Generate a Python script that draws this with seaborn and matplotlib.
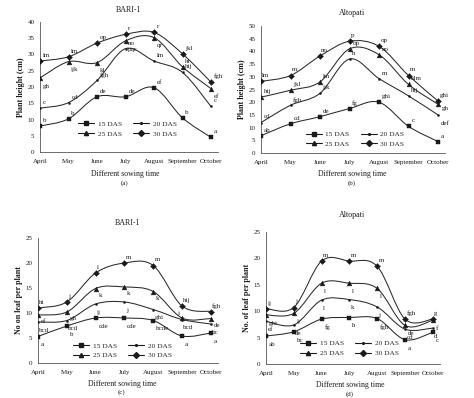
import numpy as np
import pandas as pd
import matplotlib
matplotlib.use("Agg")
import matplotlib.pyplot as plt
from matplotlib.path import Path
from matplotlib.patches import PathPatch
from matplotlib.lines import Line2D
import seaborn as sns

months = ["April", "May", "June", "July", "August", "September", "October"]
series = ["15 DAS", "20 DAS", "25 DAS", "30 DAS"]

# (a) BARI-1 plant height
a_15 = [8.0, 10.2, 17.0, 17.0, 19.8, 10.5, 4.5]
a_20 = [13.5, 15.2, 22.0, 31.8, 28.0, 24.5, 14.0]
a_25 = [22.8, 27.8, 27.5, 34.2, 35.2, 26.2, 19.5]
a_30 = [28.0, 29.3, 33.5, 36.2, 36.8, 30.2, 21.5]
a_lab15 = ["b", "b", "de", "de", "ef", "b", "a"]
a_lab20 = ["c", "cd", "fgh", "no", "lm", "hij", "c"]
a_lab25 = ["gh", "ijk", "kl", "pqr", "qr", "hi", "ef"]
a_lab30 = ["lm", "lm", "op", "r", "r", "jkl", "fgh"]

# (b) Altopati plant height
b_15 = [6.8, 11.5, 14.3, 17.5, 20.0, 10.5, 4.5]
b_20 = [12.0, 18.8, 23.5, 37.0, 29.3, 22.5, 15.0]
b_25 = [22.0, 24.7, 28.0, 41.0, 38.7, 27.0, 19.2]
b_30 = [28.2, 30.5, 38.2, 44.0, 42.0, 30.5, 20.5]
b_lab15 = ["ab", "cd", "de", "fg", "ghi", "c", "a"]
b_lab20 = ["cd", "fgh", "ijk", "n", "m", "hij", "def"]
b_lab25 = ["hij", "jkl", "lm", "op", "no", "klm", "gh"]
b_lab30 = ["lm", "m", "no", "p", "op", "m", "ghi"]

# (c) BARI-1 leaf number
c_15 = [5.3, 7.4, 9.0, 9.0, 8.5, 5.4, 6.0]
c_20 = [8.2, 8.5, 11.8, 12.2, 10.7, 8.7, 7.8]
c_25 = [9.6, 10.2, 14.9, 15.2, 14.3, 9.0, 8.9]
c_30 = [11.0, 12.2, 18.0, 20.0, 19.5, 11.4, 10.3]
c_lab15 = ["a", "b", "cde", "cde", "bcde", "a", "a"]
c_lab20 = ["bcd", "bcd", "ij", "j", "ghi", "bcd", "bc"]
c_lab25 = ["ef", "gh", "k", "k", "k", "i", "de"]
c_lab30 = ["hi", "j", "l", "m", "m", "hij", "fgh"]

# (d) Altopati leaf number
d_15 = [5.3, 6.1, 8.5, 8.8, 8.6, 4.6, 6.0]
d_20 = [8.1, 7.4, 12.1, 12.2, 10.8, 6.6, 6.8]
d_25 = [9.3, 9.6, 15.3, 15.3, 14.3, 7.3, 8.3]
d_30 = [10.5, 10.7, 19.5, 19.5, 18.5, 8.5, 8.5]
d_lab15 = ["ab", "bc", "fg", "h", "fgh", "a", "c"]
d_lab20 = ["ef", "de", "l", "k", "j", "cd", "d"]
d_lab25 = ["ghi", "ij", "l", "l", "l", "de", "f"]
d_lab30 = ["ij", "j", "m", "m", "m", "fgh", "g"]

titles = ["BARI-1", "Altopati", "BARI-1", "Altopati"]
ylabels = ["Plant height (cm)", "Plant height (cm)", "No on leaf per plant", "No. of leaf per plant"]
panel_tags = ["(a)", "(b)", "(c)", "(d)"]
xlabel = "Different sowing time"

sns.set_theme(style="white")
plt.rcParams["font.family"] = ["Liberation Serif", "DejaVu Serif"]

INK = "#1a1a1a"
markers = {"15 DAS": "s", "20 DAS": ".", "25 DAS": "^", "30 DAS": "D"}
msize = {"15 DAS": 11, "20 DAS": 9, "25 DAS": 12, "30 DAS": 9}

fig = plt.figure(figsize=(4.74, 3.98), dpi=100)
W, H = 474, 398

# axes rectangles in pixels: left, top, x-unit(px per category), bottom
rects = [
    (40, 22, 28.5, 152),
    (261, 26, 29.5, 153),
    (38, 238, 28.8, 363),
    (266, 232, 27.8, 364),
]
title_y = [10, 13, 223, 215]
xlabel_pos = [(125, 174, 183), (352, 174, 183), (122, 384, 392), (350, 385, 394)]
ylims = [(0, 40, 5), (0, 50, 5), (0, 25, 5), (0, 25, 5)]
legend_pos = [(0.49, 0.18), (0.51, 0.11), (0.47, 0.10), (0.48, 0.12)]
# label offsets (points) per series: 15, 20, 25, 30
offsets = [
    [(2, 4), (2, 4), (2, -6), (2, 4)],
    [(2, 4), (2, 4), (2, 4), (1, 4)],
    [(2, -6), (1, -6), (2, -5), (1, 4)],
    [(2, -6), (1, -6), (2, -6), (1, 4)],
]
# individual label offset overrides: (panel, series index, month index) -> offset
offset_override = {
    (1, 2, 6): (3, -3),
    (1, 1, 6): (2, -6),
    (2, 2, 5): (-3, 3),
    (0, 2, 5): (2, 4),
}

data_sets = [
    ([a_15, a_20, a_25, a_30], [a_lab15, a_lab20, a_lab25, a_lab30]),
    ([b_15, b_20, b_25, b_30], [b_lab15, b_lab20, b_lab25, b_lab30]),
    ([c_15, c_20, c_25, c_30], [c_lab15, c_lab20, c_lab25, c_lab30]),
    ([d_15, d_20, d_25, d_30], [d_lab15, d_lab20, d_lab25, d_lab30]),
]


def smooth_path(xs, ys):
    pts = np.column_stack([xs, ys]).astype(float)
    n = len(pts)
    verts = [pts[0]]
    codes = [Path.MOVETO]
    for i in range(n - 1):
        p0 = pts[i - 1] if i > 0 else pts[i]
        p1 = pts[i]
        p2 = pts[i + 1]
        p3 = pts[i + 2] if i + 2 < n else pts[i + 1]
        c1 = p1 + (p2 - p0) / 6.0
        c2 = p2 - (p3 - p1) / 6.0
        verts += [c1, c2, p2]
        codes += [Path.CURVE4] * 3
    return Path(verts, codes)


for k in range(4):
    left, top, unit, bottom = rects[k]
    width = unit * 6.25
    ax = fig.add_axes([left / W, 1 - bottom / H, width / W, (bottom - top) / H])
    vals, labs = data_sets[k]
    df = pd.DataFrame({
        "x": np.tile(np.arange(len(months)), len(series)),
        "y": np.concatenate(vals),
        "series": np.repeat(series, len(months)),
    })
    for s, v in zip(series, vals):
        ax.add_patch(PathPatch(smooth_path(np.arange(len(months)), v), fill=False,
                               edgecolor="#2a2a2a", lw=0.75, zorder=2))
    for s in series:
        sub = df[df.series == s]
        sns.scatterplot(data=sub, x="x", y="y", marker=markers[s], s=msize[s],
                        color=INK, edgecolor=INK, linewidth=0.3, legend=False,
                        ax=ax, zorder=3)
    for j, (v, lab) in enumerate(zip(vals, labs)):
        for i in range(len(months)):
            dx, dy = offset_override.get((k, j, i), offsets[k][j])
            ax.annotate(lab[i], (i, v[i]), xytext=(dx, dy), textcoords="offset points",
                        fontsize=5, color=INK, ha="left", va="center")
    ymin, ymax, step = ylims[k]
    ax.set_xlim(0, 6.25)
    ax.set_ylim(ymin, ymax)
    ax.set_yticks(np.arange(ymin, ymax + 0.1, step))
    ax.set_xticks(np.arange(len(months)))
    ax.set_xticklabels(months)
    for sp in ["top", "right"]:
        ax.spines[sp].set_visible(False)
    for sp in ["left", "bottom"]:
        ax.spines[sp].set_color("#555555")
        ax.spines[sp].set_linewidth(0.6)
    ax.tick_params(axis="both", labelsize=5, colors="#555555", labelcolor=INK,
                   length=2, width=0.5, pad=2, direction="out")
    ax.tick_params(axis="x", pad=3)
    ax.set_xlabel("")
    ax.set_ylabel(ylabels[k], fontsize=5.8, fontweight="bold", color=INK, labelpad=2)
    xl, yl, yt = xlabel_pos[k]
    fig.text(xl / W, 1 - yl / H, xlabel, fontsize=5.6, color=INK, ha="center", va="center")
    fig.text(xl / W, 1 - yt / H, panel_tags[k], fontsize=5, color=INK, ha="center", va="center")
    fig.text((left + 3.1 * unit) / W, 1 - title_y[k] / H, titles[k], fontsize=5.8,
             color=INK, ha="center", va="center")
    handles = [Line2D([0], [0], color=INK, lw=0.8, marker=markers[s],
                      markersize=3 if s != "20 DAS" else 2.5) for s in series]
    order = [0, 2, 1, 3]
    ax.legend([handles[i] for i in order], [series[i] for i in order], ncol=2,
              frameon=False, fontsize=5.3, loc="center", bbox_to_anchor=legend_pos[k],
              handlelength=2.2, columnspacing=1.5, handletextpad=0.5, labelspacing=0.5,
              borderpad=0)
    ax.set_facecolor("white")

fig.savefig("out.png", dpi=100, facecolor="white")
